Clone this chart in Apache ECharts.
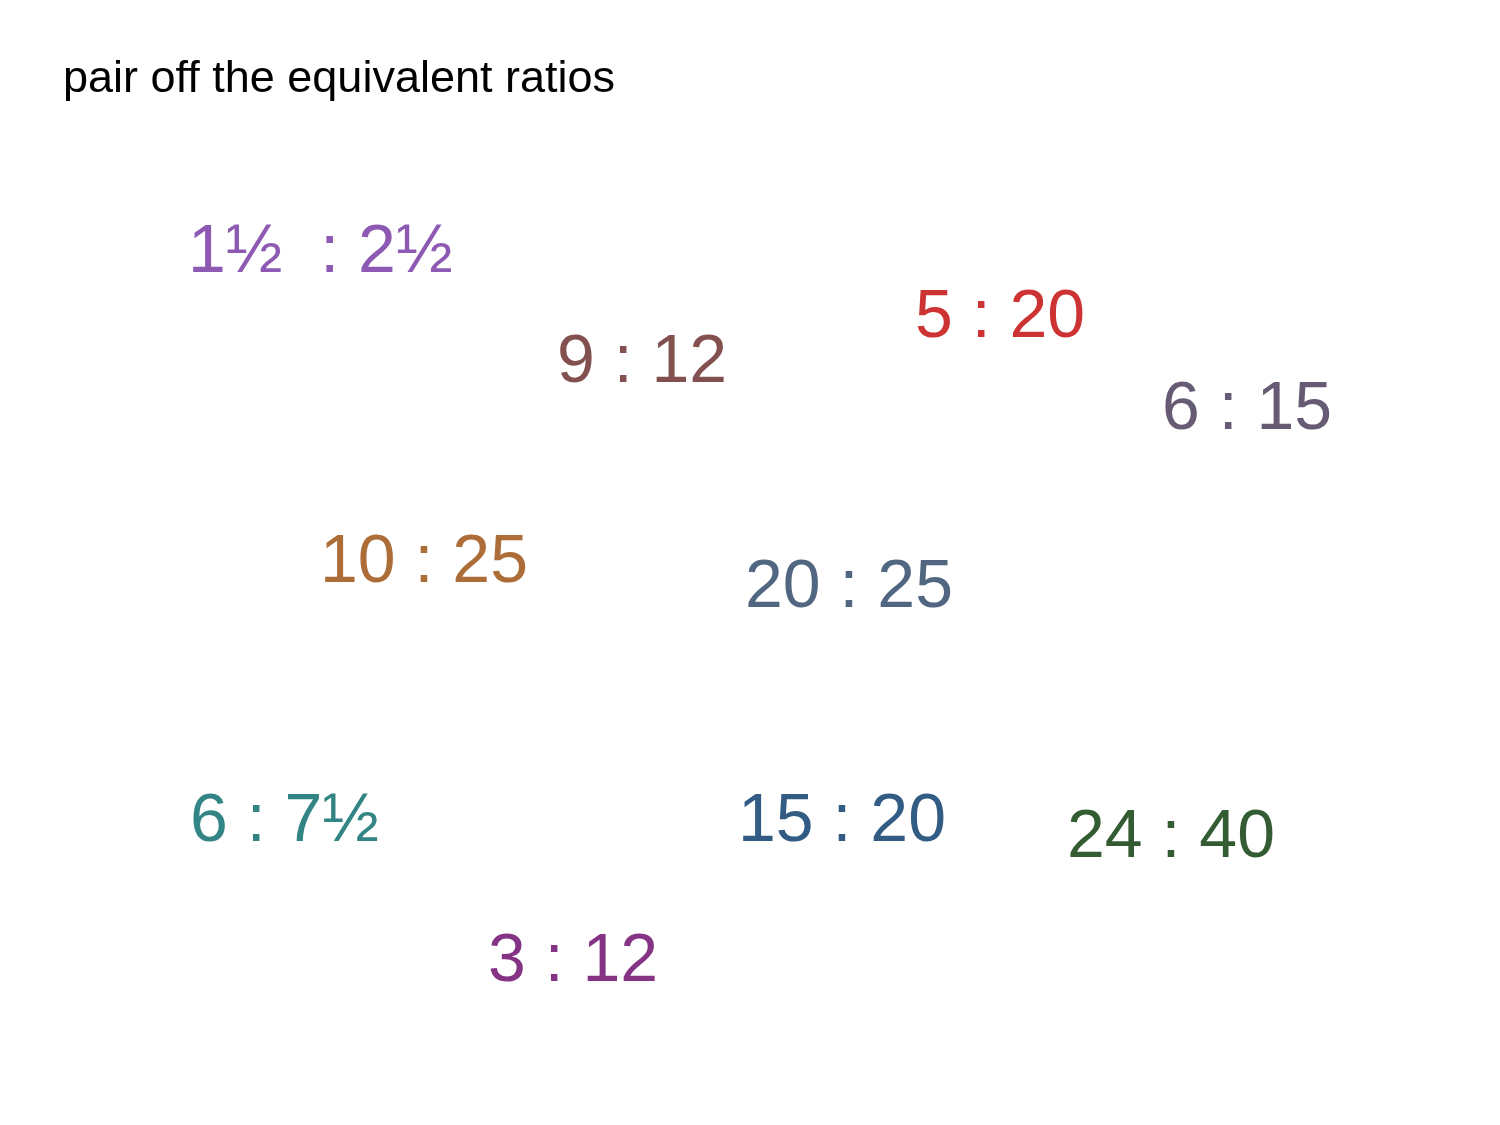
<!DOCTYPE html>
<html>
<head>
<meta charset="utf-8">
<title>ratios</title>
<script src="https://cdn.jsdelivr.net/npm/echarts@6/dist/echarts.min.js"></script>
<style>html,body{margin:0;padding:0;background:#fff}</style>
</head>
<body>
<div id="main" style="width:1500px;height:1125px"></div>
<script>
// ratio labels, their left-edge x / middle y in picture coordinates, colours
var labels = ['1½  : 2½', '9 : 12', '5 : 20', '6 : 15', '10 : 25', '20 : 25', '6 : 7½', '15 : 20', '24 : 40', '3 : 12'];
var xs = [188, 557, 915, 1162, 320, 745, 190, 738, 1067, 488];
var ys = [253, 363, 318, 410, 563, 588, 822, 822, 838, 962];
var colors = ['#7030A0', '#632523', '#C00000', '#403151', '#984807', '#254061', '#006666', '#003366', '#003300', '#660066'];

var data = labels.map(function (t, i) {
    return {
        value: [xs[i], ys[i]],
        label: { formatter: t, color: colors[i] }
    };
});

var chart = echarts.init(document.getElementById('main'));
chart.setOption({
    animation: false,
    title: {
        text: 'pair off the equivalent ratios',
        left: 58, top: 52,
        textStyle: { fontFamily: 'Liberation Sans', fontSize: 45, fontWeight: 'normal', color: '#000' }
    },
    grid: { left: 0, right: 0, top: 0, bottom: 0 },
    xAxis: { type: 'value', min: 0, max: 1500, show: false },
    yAxis: { type: 'value', min: 0, max: 1125, inverse: true, show: false },
    series: [{
        type: 'scatter',
        symbolSize: 0,
        data: data,
        label: {
            show: true,
            position: 'inside',
            align: 'left',
            verticalAlign: 'middle',
            fontFamily: 'Liberation Sans',
            fontSize: 68
        }
    }]
});
</script>
</body>
</html>
